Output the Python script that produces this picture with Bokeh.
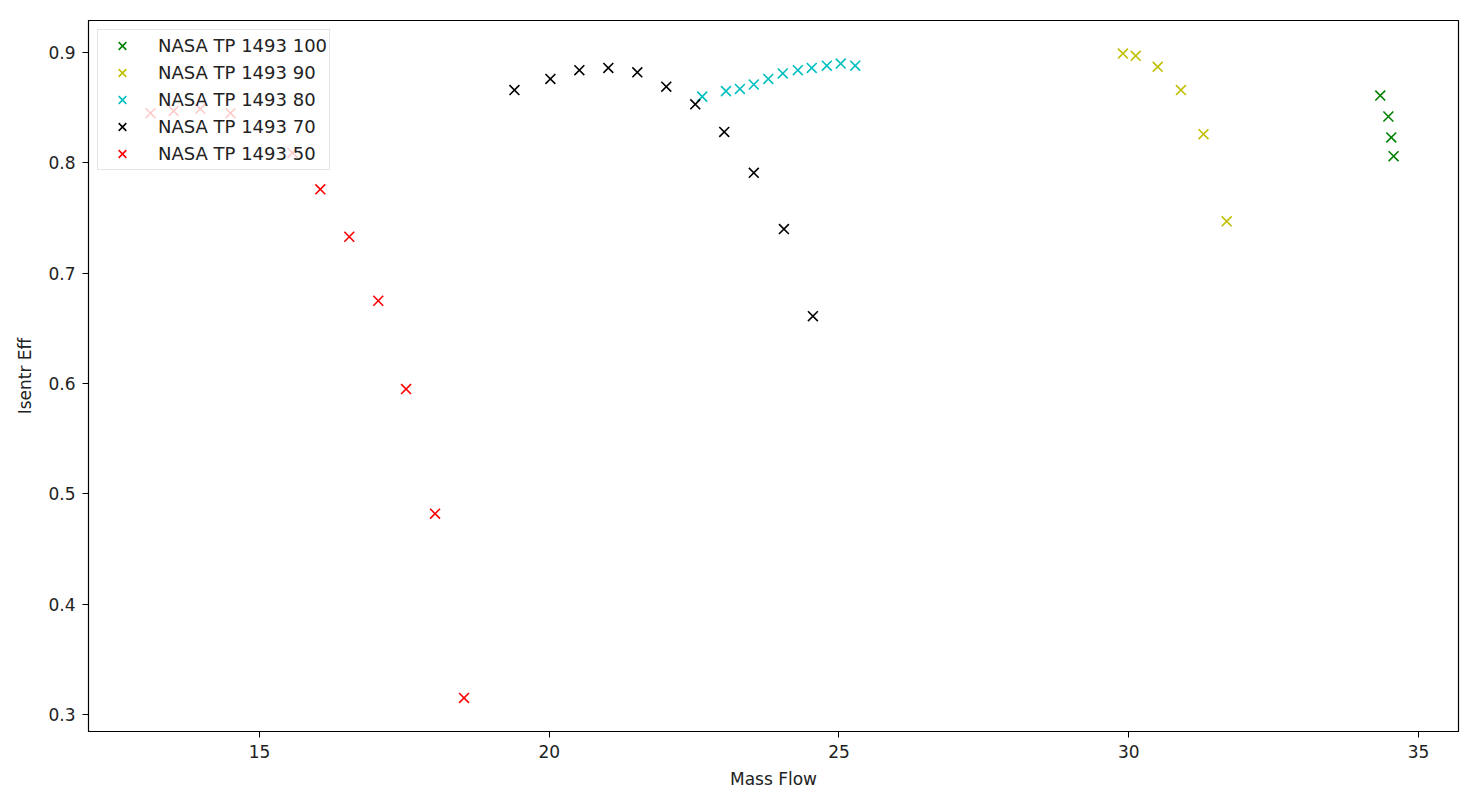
from bokeh.plotting import figure
from bokeh.models import FixedTicker, Range1d, Legend, LegendItem
from bokeh.embed import file_html
from bokeh.resources import INLINE

# Data
x100 = [34.34, 34.48, 34.53, 34.57]
y100 = [0.861, 0.842, 0.823, 0.806]

x90 = [29.90, 30.12, 30.50, 30.90, 31.29, 31.69]
y90 = [0.899, 0.897, 0.887, 0.866, 0.826, 0.747]

x80 = [22.64, 23.05, 23.29, 23.53, 23.78, 24.03, 24.29, 24.53, 24.79, 25.03, 25.28]
y80 = [0.860, 0.865, 0.867, 0.871, 0.876, 0.881, 0.884, 0.886, 0.888, 0.890, 0.888]

x70 = [19.40, 20.02, 20.52, 21.02, 21.52, 22.02, 22.52, 23.02, 23.53, 24.05, 24.55]
y70 = [0.866, 0.876, 0.884, 0.886, 0.882, 0.869, 0.853, 0.828, 0.791, 0.740, 0.661]

x50 = [13.12, 13.52, 13.98, 14.50, 15.57, 16.05, 16.55, 17.05, 17.53, 18.03, 18.53]
y50 = [0.845, 0.847, 0.849, 0.845, 0.809, 0.776, 0.733, 0.675, 0.595, 0.482, 0.315]

labels = ["NASA TP 1493 100", "NASA TP 1493 90", "NASA TP 1493 80",
          "NASA TP 1493 70", "NASA TP 1493 50"]
colors = ["#008000", "#bfbf00", "#00bfbf", "#000000", "#ff0000"]
series = [(x100, y100), (x90, y90), (x80, y80), (x70, y70), (x50, y50)]

x_ticks = [15, 20, 25, 30, 35]
y_ticks = [0.3, 0.4, 0.5, 0.6, 0.7, 0.8, 0.9]

FONT = "DejaVu Sans"

p = figure(width=1464, height=791, output_backend="svg", toolbar_location=None,
           x_range=Range1d(12.05, 35.69), y_range=Range1d(0.2846, 0.929),
           min_border_left=88, min_border_right=6, min_border_top=20, min_border_bottom=10)

p.xgrid.visible = False
p.ygrid.visible = False
p.outline_line_color = "black"
p.outline_line_width = 1.2
p.outline_line_alpha = 1.0

items = []
for (xs, ys), c, lab in zip(series, colors, labels):
    r = p.scatter(xs, ys, marker="x", size=14, line_color=c, line_width=1.6)
    items.append(LegendItem(label=lab, renderers=[r]))

for ax in (p.xaxis[0], p.yaxis[0]):
    ax.major_label_text_font = FONT
    ax.major_label_text_font_size = "17px"
    ax.major_label_text_color = "#222222"
    ax.axis_label_text_font = FONT
    ax.axis_label_text_font_size = "17px"
    ax.axis_label_text_font_style = "normal"
    ax.axis_label_text_color = "#222222"
    ax.minor_tick_line_color = None
    ax.major_tick_out = 6
    ax.major_tick_in = 0
    ax.axis_line_color = "black"
    ax.major_label_standoff = 7

p.xaxis.ticker = FixedTicker(ticks=x_ticks)
p.yaxis.ticker = FixedTicker(ticks=y_ticks)
p.xaxis.axis_label = "Mass Flow"
p.yaxis.axis_label = "Isentr Eff"
p.xaxis.axis_label_standoff = 8
p.yaxis.axis_label_standoff = 10

legend = Legend(items=items, location="top_left")
legend.label_text_font = FONT
legend.label_text_font_size = "18px"
legend.label_text_color = "#222222"
legend.background_fill_alpha = 0.8
legend.border_line_color = "#cccccc"
legend.border_line_width = 1
legend.spacing = 0
legend.padding = 2
legend.margin = 9
legend.glyph_width = 44
legend.glyph_height = 27
legend.label_height = 20
legend.label_standoff = 14
p.add_layout(legend)

open("out.html", "w").write(file_html(p, INLINE))
